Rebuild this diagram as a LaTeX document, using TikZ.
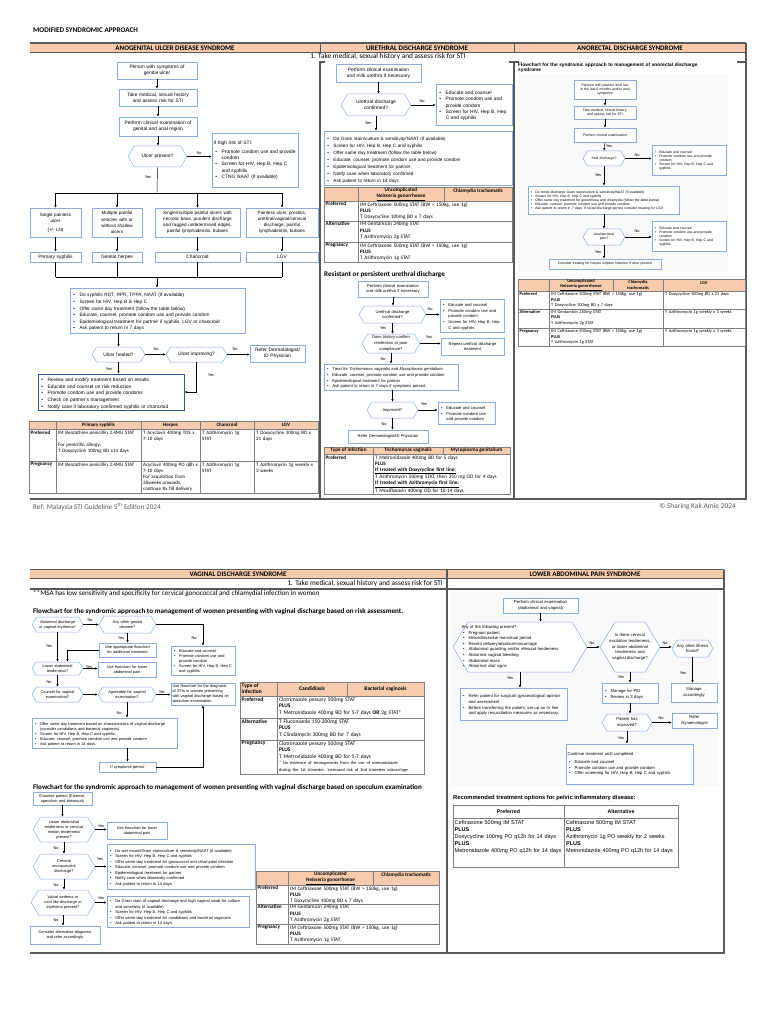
\documentclass[tikz,border=0pt]{standalone}
\usepackage{fontspec}
\setmainfont{Liberation Sans}
\newfontfamily\calib{Carlito}
\usetikzlibrary{arrows.meta}
\definecolor{hdr}{HTML}{F8CBAD}
\definecolor{frm}{HTML}{595959}
\definecolor{bbl}{HTML}{8FAADC}
\definecolor{dbl}{HTML}{2F5597}
\definecolor{tbl}{HTML}{808080}
\hyphenpenalty=10000
\exhyphenpenalty=10000
\newcommand\fA{\fontsize{4.85}{6.2}\selectfont}
\newcommand\fB{\fontsize{4.65}{7}\selectfont}
\newcommand\fC{\fontsize{4.1}{5.6}\selectfont}
\newcommand\fD{\fontsize{3.45}{3.9}\selectfont}
\newcommand\fE{\fontsize{3.9}{5}\selectfont}
\newcommand\fF{\fontsize{4.2}{5.6}\selectfont}
\newcommand\fG{\fontsize{4}{5.5}\selectfont}
\newcommand\tA{\calib\fontsize{5}{6.2}\selectfont}
\newcommand\tB{\calib\fontsize{5.2}{6.3}\selectfont}
\newcommand\tC{\calib\fontsize{5.2}{6}\selectfont}
\newcommand\tD{\calib\fontsize{4.4}{5.4}\selectfont}
\newcommand\tE{\calib\fontsize{5.5}{6.8}\selectfont}
\newcommand\itm{\par\noindent\hangindent=1.7em\hangafter=1\makebox[1.7em][l]{\hspace{0.4em}\textbullet}\ignorespaces}
\newcommand\bx[7][]{%
 \pgfmathsetmacro\mybw{#5-#3}\pgfmathsetmacro\mybh{#6-#4}\pgfmathsetmacro\mytw{#5-#3-3}%
 \node[box,#1,minimum width=\mybw pt,minimum height=\mybh pt,text width=\mytw pt] (#2) at ({(#3+#5)/2},{(#4+#6)/2}) {#7\par};}
\newcommand\hx[7][]{%
 \pgfmathsetmacro\myhd{(#6-#4)*0.3}%
 \pgfmathsetmacro\mybw{#5-#3}\pgfmathsetmacro\mybh{#6-#4}\pgfmathsetmacro\mytw{#5-#3-\myhd-2}\pgfmathsetmacro\myix{\myhd/2+1}%
 \draw[hexline] (#3,{(#4+#6)/2}) -- ({#3+\myhd},#4) -- ({#5-\myhd},#4) -- (#5,{(#4+#6)/2}) -- ({#5-\myhd},#6) -- ({#3+\myhd},#6) -- cycle;
 \node[hexin,#1,minimum width=\mybw pt,minimum height=\mybh pt,text width=\mytw pt,inner xsep=\myix pt] (#2) at ({(#3+#5)/2},{(#4+#6)/2}) {#7\par};}
\tikzset{
 box/.style={draw=bbl,line width=0.5pt,fill=white,inner xsep=1.5pt,inner ysep=0.5pt,align=center},
 hexin/.style={inner ysep=0.5pt,align=center},
 hexline/.style={draw=bbl,line width=0.5pt,fill=white},
 arr/.style={-{Latex[length=2.6pt,width=2.2pt]},line width=0.45pt,black},
 ln/.style={line width=0.45pt,black},
 lbl/.style={font=\fontsize{3.9}{4}\selectfont,inner sep=0.5pt},
 grid/.style={draw=tbl,line width=0.35pt},
 cellt/.style={inner sep=0pt,align=left,anchor=north west},
 hd/.style={font=\calib\bfseries\fontsize{7}{8}\selectfont,inner sep=0pt},
 sub/.style={font=\calib\fontsize{7.3}{8}\selectfont,inner sep=0pt},
 bold/.style={font=\calib\bfseries\fontsize{7.1}{8}\selectfont,inner sep=0pt,anchor=west},
}
\begin{document}
\begin{tikzpicture}[x=1pt,y=-1pt]
\useasboundingbox (0,0) rectangle (768,1024);
\fill[white] (0,0) rectangle (768,1024);
\node[anchor=west,font=\calib\bfseries\fontsize{7.2}{8}\selectfont,inner sep=0pt] (title) at (33,30) {MODIFIED SYNDROMIC APPROACH};
% ===== top frame
\fill[hdr] (30,43.5) rectangle (746,52.5);
\draw[frm,line width=1.4pt] (30,43) -- (746,43);
\draw[frm,line width=0.8pt] (30,52.8) -- (746,52.8);
\draw[frm,line width=0.8pt] (320,43) -- (320,52.8) (514,43) -- (514,52.8);
\draw[frm,line width=1.4pt] (746,43) -- (746,499) -- (30,499);
\draw[frm,line width=1.1pt] (325,62) -- (320,62) -- (320,499) (509,62) -- (514,62) -- (514,499) -- (514,62) -- (519,62) (737,62) -- (746,62);
\node[hd] (h1) at (175,48) {ANOGENITAL ULCER DISEASE SYNDROME};
\node[hd] (h2) at (417,48) {URETHRAL DISCHARGE SYNDROME};
\node[hd] (h3) at (630,48) {ANORECTAL DISCHARGE SYNDROME};
\node[sub] (s1) at (388,57) {1. Take medical, sexual history and assess risk for STI};
% ===== left flowchart
\bx[font=\fA]{a1}{117}{62}{197}{79}{Person with symptoms of\\genital ulcer}
\bx[font=\fA]{a2}{119}{89}{197}{106}{Take medical, sexual history\\and assess risk for STI}
\bx[font=\fA]{a3}{119}{117}{197}{136}{Perform clinical examination of\\genital and anal region}
\hx[font=\fA]{a4}{128}{146}{187}{167}{Ulcer present?}
\bx[font=\fA,align=left]{a5}{212}{133}{298}{187}{If high risk of STI:\par\vspace{3pt}\itm Promote condom use and provide condom\itm Screen for HIV, Hep B, Hep C and syphilis\itm CTNG NAAT (if available)}
\draw[arr] (a1.south) -- (a1.south |- a2.north);
\draw[arr] (a2.south) -- (a2.south |- a3.north);
\draw[arr] (a3.south) -- (a3.south |- a4.north);
\draw[arr] (a4.east) -- (a4.east -| a5.west);
\node[lbl] (la1) at (199,153) {No};
\node[lbl] (la2) at (148,177) {Yes};
\bx[font=\fontsize{4.6}{6.1}\selectfont]{b1}{30}{208}{81}{237}{Single painless\\ulcer\\[3pt](+/- LN)}
\bx[font=\fontsize{4.6}{6.1}\selectfont]{b2}{92}{208}{142}{237}{Multiple painful\\vesicles with or\\without shallow\\ulcers}
\bx[font=\fontsize{4.6}{6.1}\selectfont]{b3}{155}{208}{240}{237}{Single/multiple painful ulcers with\\necrotic base, purulent discharge\\and ragged undetermined edges,\\painful lymphadenitis, buboes}
\bx[font=\fontsize{4.6}{6.1}\selectfont]{b4}{246}{208}{318}{237}{Painless ulcer, proctitis,\\urethral/vaginal/cervical\\discharge, painful\\lymphadenitis, buboes}
\coordinate (br) at (157,193);
\draw[ln] (a4.south) -- (br);
\draw[ln] (br -| b1.north) -- (br -| b4.north);
\foreach \n in {b1,b2,b3,b4} \draw[arr] (br -| \n.north) -- (\n.north);
\bx[font=\fA]{c1}{30}{252}{81}{262}{Primary syphilis}
\bx[font=\fA]{c2}{92}{252}{142}{262}{Genital herpes}
\bx[font=\fA]{c3}{155}{252}{240}{262}{Chancroid}
\bx[font=\fA]{c4}{246}{252}{318}{262}{LGV}
\draw[arr] (b1.south) -- (c1.north);
\draw[arr] (b2.south) -- (c2.north);
\draw[arr] (b3.south) -- (c3.north);
\draw[arr] (b4.south) -- (c4.north);
\coordinate (mg) at (157,277);
\foreach \n in {c1,c2,c3,c4} \draw[ln] (\n.south) -- (mg -| \n.south);
\draw[ln] (mg -| c1.south) -- (mg -| c4.south);
\bx[font=\fontsize{4.75}{6.6}\selectfont,align=left]{d1}{70}{288}{245}{333}{\itm Do syphilis RDT, RPR, TPPA, NAAT (if available)\itm Screen for HIV, Hep B \& Hep C\itm Offer same day treatment (follow the table below)\itm Educate, counsel, promote condom use and provide condom\itm Epidemiological treatment for partner if syphilis, LGV or chancroid\itm Ask patient to return in 7 days}
\draw[arr] (mg) -- (mg |- d1.north);
\hx[font=\fA]{e1}{92}{347}{145}{362}{Ulcer healed?}
\hx[font=\fA]{e2}{166}{347}{227}{362}{Ulcer improving?}
\bx[font=\fA]{e3}{250}{345}{305}{362}{Refer Dermatologist/\\ID Physician}
\draw[arr] (d1.south -| e1.south) -- (e1.north);
\draw[arr] (e1.east) -- (e2.west);
\draw[arr] (e2.east) -- (e2.east -| e3.west);
\node[lbl] (le1) at (156,349) {No};
\node[lbl] (le2) at (235,349) {No};
\node[lbl] (le3) at (109,369) {Yes};
\node[lbl] (le4) at (211,375) {Yes};
\bx[font=\fontsize{4.85}{6.7}\selectfont,align=left,draw=dbl,line width=1pt]{f1}{38}{374}{184}{410}{\itm Review and modify treatment based on results\itm Educate and counsel on risk reduction\itm Promote condom use and provide condoms\itm Check on partner's management\itm Notify case if laboratory confirmed syphilis or chancroid}
\draw[arr] (e1.south) -- (e1.south |- f1.north);
\draw[arr] (e2.south) |- (f1.east);
% left table
\fill[hdr] (29,421) rectangle (318,429);
\draw[grid] (29,421) rectangle (318,493);
\draw[grid] (29,429) -- (318,429) (29,461) -- (318,461) (56,421) -- (56,493) (141,421) -- (141,493) (200,421) -- (200,493) (254,421) -- (254,493);
\node[font=\tA\bfseries,inner sep=0pt] (lt1) at (98.5,425) {Primary syphilis};
\node[font=\tA\bfseries,inner sep=0pt] (lt2) at (170.5,425) {Herpes};
\node[font=\tA\bfseries,inner sep=0pt] (lt3) at (227,425) {Chancroid};
\node[font=\tA\bfseries,inner sep=0pt] (lt4) at (286,425) {LGV};
\node[cellt,font=\tA\bfseries] (lt5) at (30.5,430.5) {Preferred};
\node[cellt,font=\tA\bfseries] (lt6) at (30.5,462.5) {Pregnancy};
\node[cellt,font=\tA,text width=82pt] (lt7) at (58,430.5) {IM Benzathine penicillin 2.4MU STAT\\\mbox{}\\For penicillin allergy:\\T Doxycycline 100mg BD x14 days};
\node[cellt,font=\tA,text width=55pt] (lt8) at (143,430.5) {T Acyclovir 400mg TDS x 7-10 days};
\node[cellt,font=\tA,text width=46pt] (lt9) at (202,430.5) {T Azithromycin 1g STAT};
\node[cellt,font=\tA,text width=60pt] (lt10) at (256,430.5) {T Doxycycline 100mg BD x 21 days};
\node[cellt,font=\tA,text width=82pt] (lt11) at (58,462.5) {IM Benzathine penicillin 2.4MU STAT};
\node[cellt,font=\tA,text width=55pt] (lt12) at (143,462.5) {Acyclovir 400mg PO q8h x 7-10 days\\*For acquisition from 28weeks onwards, continue Rx till delivery};
\node[cellt,font=\tA,text width=46pt] (lt13) at (202,462.5) {T Azithromycin 1g STAT};
\node[cellt,font=\tA,text width=58pt] (lt14) at (256,462.5) {T Azithromycin 1g weekly x 3 weeks};
% ===== middle column
\bx[font=\fA]{g1}{336}{64}{421}{82}{Perform clinical examination\\and milk urethra if necessary}
\hx[font=\fA]{g2}{341}{94}{411}{116}{Urethral discharge\\confirmed?}
\bx[font=\fA,align=left]{g3}{436}{84}{512}{125}{\itm Educate and counsel\itm Promote condom use and provide condom\itm Screen for HIV, Hep B, Hep C and syphilis}
\bx[font=\fB,align=left]{g4}{324}{131}{512}{185}{\itm Do Gram stain/culture \& sensitivity/NAAT (if available)\itm Screen for HIV, Hep B, Hep C and syphilis\itm Offer same day treatment (follow the table below)\itm Educate, counsel, promote condom use and provide condom\itm Epidemiological treatment for partner\itm Notify case when laboratory confirmed\itm Ask patient to return in 14 days}
\draw[arr] (g1.south) -- (g1.south |- g2.north);
\draw[arr] (g2.east) -- (g3.west |- g2.east);
\draw[arr] (g2.south) -- (g2.south |- g4.north);
\node[lbl] (lg1) at (422,101) {No};
\node[lbl] (lg2) at (368,123) {Yes};
% urethral table
\fill[hdr] (324,187) rectangle (512,201);
\draw[grid] (324,187) rectangle (512,262);
\draw[grid] (324,201) -- (512,201) (324,221) -- (512,221) (324,242) -- (512,242) (358,187) -- (358,262) (444,187) -- (444,201);
\node[font=\tB\bfseries,align=center,inner sep=0pt] (ut1) at (401,194) {Uncomplicated\\\underline{Neisseria gonorrhoeae}};
\node[font=\tB\bfseries,inner sep=0pt] (ut2) at (478,191) {Chlamydia trachomatis};
\node[cellt,font=\tB\bfseries] (ut3) at (325.5,202) {Preferred};
\node[cellt,font=\tB\bfseries] (ut4) at (325.5,222) {Alternative};
\node[cellt,font=\tB\bfseries] (ut5) at (325.5,243) {Pregnancy};
\node[cellt,font=\tB,text width=150pt] (ut6) at (360,202) {IM Ceftriaxone 500mg STAT (BW > 150kg, use 1g)\\\textbf{PLUS}\\T Doxycycline 100mg BD x 7 days};
\node[cellt,font=\tB,text width=150pt] (ut7) at (360,222) {IM Gentamicin 240mg STAT\\\textbf{PLUS}\\T Azithromycin 2g STAT};
\node[cellt,font=\tB,text width=150pt] (ut8) at (360,243) {IM Ceftriaxone 500mg STAT (BW > 150kg, use 1g)\\\textbf{PLUS}\\T Azithromycin 1g STAT};
\node[bold] (rp) at (324,275) {Resistant or persistent urethral discharge};
% resistant flow
\bx[font=\fC]{h1}{358}{281}{428}{297}{Perform clinical examination\\and milk urethra if necessary}
\hx[font=\fC]{h2}{359}{306}{426}{323}{Urethral discharge\\confirmed?}
\bx[font=\fC,align=left]{h3}{440}{299}{504}{332}{\itm Educate and counsel\itm Promote condom use and provide condom\itm Screen for HIV, Hep B, Hep C and syphilis}
\hx[font=\fC]{h4}{362}{334}{420}{353}{Does history confirm\\reinfection or poor\\compliance?}
\bx[font=\fC]{h5}{441}{338}{504}{355}{Repeat urethral discharge\\treatment}
\bx[font=\fC,align=left]{h6}{324}{364}{458}{390}{\itm Treat for \textit{Trichomonas vaginalis} and \textit{Mycoplasma genitalium}\itm Educate, counsel, promote condom use and provide condom\itm Epidemiological treatment for partner\itm Ask patient to return in 7 days if symptoms persist.}
\hx[font=\fC]{h7}{367}{402}{418}{418}{Improved?}
\bx[font=\fC,align=left]{h8}{438}{402}{495}{424}{\itm Educate and counsel\itm Promote condom use and provide condom}
\bx[font=\fC]{h9}{348}{430}{428}{443}{Refer Dermatologist/ID Physician}
\draw[arr] (h1.south) -- (h1.south |- h2.north);
\draw[arr] (h2.east) -- (h3.west |- h2.east);
\draw[arr] (h2.south) -- (h2.south |- h4.north);
\draw[arr] (h4.east) -- (h5.west |- h4.east);
\draw[arr] (h4.south) -- (h4.south |- h6.north);
\draw[arr] (h6.south -| h7.north) -- (h7.north);
\draw[arr] (h7.east) -- (h8.west |- h7.east);
\draw[arr] (h7.south) -- (h7.south |- h9.north);
\node[lbl] (lh1) at (430,309) {No};
\node[lbl] (lh2) at (383,328) {Yes};
\node[lbl] (lh3) at (429,337) {Yes};
\node[lbl] (lh4) at (383,359) {No};
\node[lbl] (lh5) at (424,404) {Yes};
\node[lbl] (lh6) at (384,424) {No};
% trich table
\fill[hdr] (324,447) rectangle (510,454);
\draw[grid] (324,447) rectangle (510,494);
\draw[grid] (324,454) -- (510,454) (373,447) -- (373,494) (443,447) -- (443,454);
\node[font=\tC\bfseries,inner sep=0pt] (tt1) at (348.5,450.5) {Type of infection};
\node[font=\tC\bfseries,inner sep=0pt] (tt2) at (408,450.5) {Trichomonas vaginalis};
\node[font=\tC\bfseries,inner sep=0pt] (tt3) at (476.5,450.5) {Mycoplasma genitalium};
\node[cellt,font=\tC\bfseries] (tt4) at (325.5,455.5) {Preferred};
\node[cellt,font=\tC,text width=135pt] (tt5) at (375,455.5) {T Metronidazole 400mg BD for 5 days\\\textbf{PLUS}\\\textbf{\underline{If treated with Doxycycline first line:}}\\T Azithromycin 500mg STAT, then 250 mg OD for 4 days\\\textbf{\underline{If treated with Azithromycin first line:}}\\T Moxifloxacin 400mg OD for 10-14 days};
% ===== right column
\fill[gray!5] (519,74) rectangle (728,272);
\node[cellt,font=\bfseries\fontsize{4.8}{5.2}\selectfont,text width=225pt] (at0) at (518,63) {Flowchart for the syndromic approach to management of anorectal discharge\\syndrome};
\bx[font=\fD]{k1}{574}{80}{636}{99}{Persons with passive anal sex\\in the last 6 months and/or anal\\symptoms}
\bx[font=\fD]{k2}{574}{106}{636}{119}{Take medical, sexual history,\\and assess risk for STI}
\bx[font=\fD]{k3}{574}{128}{636}{142}{Perform clinical examination}
\hx[font=\fD]{k4}{583}{151}{625}{166}{Anal discharge?}
\bx[font=\fD,align=left]{k5}{652}{145}{726}{175}{\itm Educate and counsel\itm Promote condom use and provide condom\itm Screen for HIV, Hep B, Hep C and syphilis}
\bx[font=\fD,align=left]{k6}{528}{186}{679}{214}{\itm Do rectal discharge Gram stain/culture \& sensitivity/NAAT (if available)\itm Screen for HIV, Hep B, Hep C and syphilis\itm Offer same day treatment for gonorrhoea and chlamydia (follow the table below)\itm Educate, counsel, promote condom use and provide condom\itm Ask patient to return in 7 days, if rectal discharge persist consider treating for LGV}
\hx[font=\fD]{k7}{583}{229}{625}{245}{Anal/perianal\\pain?}
\bx[font=\fD,align=left]{k8}{652}{221}{726}{251}{\itm Educate and counsel\itm Promote condom use and provide condom\itm Screen for HIV, Hep B, Hep C and syphilis}
\bx[font=\fD]{k9}{549}{259}{661}{269}{Consider treating for herpes simplex infection if ulcer present}
\draw[arr] (k1.south) -- (k2.north);
\draw[arr] (k2.south) -- (k3.north);
\draw[arr] (k3.south) -- (k4.north);
\draw[arr] (k4.east) -- (k5.west |- k4.east);
\draw[arr] (k4.south) -- (k4.south |- k6.north);
\draw[arr] (k6.south -| k7.north) -- (k7.north);
\draw[arr] (k7.east) -- (k8.west |- k7.east);
\draw[arr] (k7.south) -- (k7.south |- k9.north);
\node[lbl] (lk1) at (609,146) {Yes};
\node[lbl] (lk2) at (637,155) {No};
\node[lbl] (lk3) at (598,175) {Yes};
\node[lbl] (lk4) at (637,231) {No};
\node[lbl] (lk5) at (598,252) {Yes};
% anorectal table
\fill[hdr] (518,279) rectangle (745,291);
\draw[grid] (518,279) rectangle (745,346);
\draw[grid] (518,291) -- (745,291) (518,309) -- (745,309) (518,328) -- (745,328) (549,279) -- (549,346) (613,279) -- (613,291) (663,279) -- (663,346);
\node[font=\tD\bfseries,align=center,inner sep=0pt] (rt1) at (581,285) {Uncomplicated\\\underline{Neisseria gonorrhoeae}};
\node[font=\tD\bfseries,align=center,inner sep=0pt] (rt2) at (638,285) {Chlamydia\\trachomatis};
\node[font=\tD\bfseries,inner sep=0pt] (rt3) at (704,283) {LGV};
\node[cellt,font=\tD\bfseries] (rt4) at (519.5,292.3) {Preferred};
\node[cellt,font=\tD\bfseries] (rt5) at (519.5,310.3) {Alternative};
\node[cellt,font=\tD\bfseries] (rt6) at (519.5,329.3) {Pregnancy};
\node[cellt,font=\tD,text width=110pt] (rt7) at (551,292.3) {IM Ceftriaxone 500mg STAT (BW > 150kg, use 1g)\\\textbf{PLUS}\\T Doxycycline 100mg BD x 7 days};
\node[cellt,font=\tD,text width=110pt] (rt8) at (551,310.3) {IM Gentamicin 240mg STAT\\\textbf{PLUS}\\T Azithromycin 2g STAT};
\node[cellt,font=\tD,text width=110pt] (rt9) at (551,329.3) {IM Ceftriaxone 500mg STAT (BW > 150kg, use 1g)\\\textbf{PLUS}\\T Azithromycin 1g STAT};
\node[cellt,font=\tD,text width=80pt] (rt10) at (665,292.3) {T Doxycycline 100mg BD x 21 days};
\node[cellt,font=\tD,text width=80pt] (rt11) at (665,310.3) {T Azithromycin 1g weekly x 3 weeks};
\node[cellt,font=\tD,text width=80pt] (rt12) at (665,329.3) {T Azithromycin 1g weekly x 3 weeks};
% footers
\node[anchor=west,font=\calib\fontsize{7.2}{8}\selectfont,text=frm,inner sep=0pt] (ref) at (33,507) {Ref: Malaysia STI Guideline 5\textsuperscript{th} Edition 2024};
\node[anchor=east,font=\calib\fontsize{7.4}{8}\selectfont,text=frm,inner sep=0pt] (cpy) at (736,507) {© Sharing Kak Amie 2024};
% ===== bottom frame
\fill[hdr] (30,570) rectangle (724,578.5);
\draw[frm,line width=1.4pt] (30,569.5) -- (724,569.5);
\draw[frm,line width=0.8pt] (30,578.8) -- (724,578.8);
\draw[frm,line width=1.4pt] (30,589) -- (724,589);
\draw[frm,line width=1.4pt] (724,569.5) -- (724,953) -- (30,953);
\draw[frm,line width=1.1pt] (447,569.5) -- (447,953);
\node[hd] (h4) at (238,574) {VAGINAL DISCHARGE SYNDROME};
\node[hd] (h5) at (585,574) {LOWER ABDOMINAL PAIN SYNDROME};
\node[sub,anchor=east] (s2) at (443,584) {1. Take medical, sexual history and assess risk for STI};
\node[sub,anchor=west,font=\calib\fontsize{7.1}{8}\selectfont] (msa) at (33,594) {**MSA has low sensitivity and specificity for cervical gonococcal and chlamydial infection in women};
\node[bold] (fl1) at (33,612) {Flowchart for the syndromic approach to management of women presenting with vaginal discharge based on risk assessment.};
% vaginal flow 1
\hx[font=\fE]{v1}{32}{617}{83}{632}{Abnormal discharge\\or vaginal erythema?}
\hx[font=\fE]{v2}{99}{616}{156}{633}{Any other genital\\disease?}
\bx[font=\fE,align=left]{v3}{171}{646}{235}{675}{\itm Educate and counsel\itm Promote condom use and provide condom\itm Screen for HIV, Hep B, Hep C and syphilis}
\bx[font=\fE]{v4}{99}{643}{156}{657}{Use appropriate flowchart\\for additional treatment}
\hx[font=\fE]{v5}{32}{662}{83}{675}{Lower abdominal\\tenderness?}
\bx[font=\fE]{v6}{98}{662}{156}{677}{Use flowchart for lower\\abdominal pain}
\hx[font=\fE]{v7}{32}{687}{83}{702}{Counsel for vaginal\\examination?}
\hx[font=\fE]{v8}{98}{687}{156}{702}{Agreeable for vaginal\\examination?}
\bx[font=\fE,align=left]{v9}{171}{683}{235}{705}{Use flowchart for the diagnosis of STIs in women presenting with vaginal discharge based on speculum examination}
\bx[font=\fE,align=left]{v10}{32}{718}{177}{748}{\itm Offer same day treatment based on characteristics of vaginal discharge (consider candidiasis and bacterial vaginosis)\itm Screen for HIV, Hep B, Hep C and syphilis.\itm Educate, counsel, promote condom use and provide condom\itm Ask patient to return in 14 days.}
\bx[font=\fE]{v11}{99}{762}{156}{772}{If symptoms persist}
\draw[arr] (v1.east) -- (v2.west);
\draw[arr] (v2.east) -| (v3.north);
\draw[arr] (v2.south) -- (v2.south |- v4.north);
\draw[arr] (v4.west) -| ([xshift=10pt]v5.north);
\draw[arr] (v1.south) -- (v5.north);
\draw[arr] (v5.east) -- (v6.west |- v5.east);
\draw[arr] (v5.south) -- (v7.north);
\draw[arr] (v7.east) -- (v8.west);
\draw[arr] (v8.east) -- (v9.west |- v8.east);
\draw[arr] (v8.south) -- (v8.south |- v10.north);
\draw[arr] (v10.south -| v11.north) -- (v11.north);
\draw[arr] (v11.east) -| (v9.south);
\node[lbl] (lv1) at (90,620) {No};
\node[lbl] (lv2) at (194,638) {No};
\node[lbl] (lv3) at (121,638) {Yes};
\node[lbl] (lv4) at (49,646) {Yes};
\node[lbl] (lv5) at (89,667) {Yes};
\node[lbl] (lv6) at (49,682) {No};
\node[lbl] (lv7) at (162,692) {Yes};
\node[lbl] (lv8) at (119,713) {No};
% vaginal table
\fill[hdr] (240,682) rectangle (424,696);
\draw[grid] (240,682) rectangle (424,774);
\draw[grid] (240,696) -- (424,696) (240,718) -- (424,718) (240,740) -- (424,740) (277,682) -- (277,774) (347,682) -- (347,696);
\node[cellt,font=\tE\bfseries] (vt1) at (241.5,683) {Type of\\infection};
\node[font=\tE\bfseries,inner sep=0pt] (vt2) at (312,689) {Candidiasis};
\node[font=\tE\bfseries,inner sep=0pt] (vt3) at (385.5,689) {Bacterial vaginosis};
\node[cellt,font=\tE\bfseries] (vt4) at (241.5,697) {Preferred};
\node[cellt,font=\tE\bfseries] (vt5) at (241.5,719) {Alternative};
\node[cellt,font=\tE\bfseries] (vt6) at (241.5,741) {Pregnancy};
\node[cellt,font=\tE,text width=145pt] (vt7) at (279,697) {Clotrimazole pessary 500mg STAT\\\textbf{PLUS}\\T Metronidazole 400mg BD for 5-7 days \textbf{OR} 2g STAT*};
\node[cellt,font=\tE,text width=145pt] (vt8) at (279,719) {T Fluconazole 150-200mg STAT\\\textbf{PLUS}\\T Clindamycin 300mg BD for 7 days};
\node[cellt,font=\tE,text width=145pt] (vt9) at (279,741) {Clotrimazole pessary 500mg STAT\\\textbf{PLUS}\\T Metronidazole 400mg BD for 5-7 days\\{\fontsize{4.4}{5.6}\selectfont * No evidence of teratogenicity from the use of metronidazole\\during the 1st trimester. Increased risk of 2nd trimester miscarriage}};
\node[bold] (fl2) at (33,788) {Flowchart for the syndromic approach to management of women presenting with vaginal discharge based on speculum examination};
% vaginal flow 2
\bx[font=\fE]{w1}{33}{792}{92}{805}{Examine patient (External,\\speculum and bimanual)}
\hx[font=\fE]{w2}{33}{817}{95}{842}{Lower abdominal\\tenderness or cervical\\motion tenderness\\present?}
\bx[font=\fE]{w3}{107}{822}{167}{839}{Use flowchart for lower\\abdominal pain}
\hx[font=\fE]{w4}{33}{854}{95}{879}{Cervical\\mucopurulent\\discharge?}
\bx[font=\fG,align=left]{w5}{107}{844}{255}{889}{\itm Do wet mount/Gram stain/culture \& sensitivity/NAAT (if available)\itm Screen for HIV, Hep B, Hep C and syphilis\itm Offer same day treatment for gonococcal and chlamydial infection\itm Educate, counsel, promote condom use and provide condom\itm Epidemiological treatment for partner\itm Notify case when laboratory confirmed\itm Ask patient to return in 14 days.}
\hx[font=\fE]{w6}{31}{890}{95}{915}{Vulval oedema or\\curd like discharge or\\erythema present?}
\bx[font=\fG,align=left]{w7}{107}{896}{249}{927}{\itm Do Gram stain of vaginal discharge and high vaginal swab for culture and sensitivity (if available)\itm Screen for HIV, Hep B, Hep C and syphilis\itm Offer same day treatment for candidiasis and bacterial vaginosis\itm Ask patient to return in 14 days.}
\bx[font=\fE]{w8}{30}{926}{100}{944}{Consider alternative diagnosis\\and refer accordingly}
\draw[arr] (w1.south) -- (w1.south |- w2.north);
\draw[arr] (w2.east) -- (w3.west |- w2.east);
\draw[arr] (w2.south) -- (w4.north);
\draw[arr] (w4.east) -- (w5.west |- w4.east);
\draw[arr] (w4.south) -- (w4.south |- w6.north);
\draw[arr] (w6.east) -- (w7.west |- w6.east);
\draw[arr] (w6.south) -- (w6.south |- w8.north);
\node[lbl] (lw1) at (101,826) {Yes};
\node[lbl] (lw2) at (56,848) {No};
\node[lbl] (lw3) at (100,859) {Yes};
\node[lbl] (lw4) at (56,885) {No};
\node[lbl] (lw5) at (101,898) {Yes};
\node[lbl] (lw6) at (56,920.5) {No};
% table 2
\fill[hdr] (256,871) rectangle (439,885);
\draw[grid] (256,871) rectangle (439,944);
\draw[grid] (256,885) -- (439,885) (256,904) -- (439,904) (256,924) -- (439,924) (288,871) -- (288,944) (373,871) -- (373,885);
\node[font=\tB\bfseries,align=center,inner sep=0pt] (wt1) at (330.5,878) {Uncomplicated\\\underline{Neisseria gonorrhoeae}};
\node[font=\tB\bfseries,inner sep=0pt] (wt2) at (406,875) {Chlamydia trachomatis};
\node[cellt,font=\tB\bfseries] (wt3) at (257.5,886) {Preferred};
\node[cellt,font=\tB\bfseries] (wt4) at (257.5,905) {Alternative};
\node[cellt,font=\tB\bfseries] (wt5) at (257.5,925) {Pregnancy};
\node[cellt,font=\tB,text width=148pt] (wt6) at (290,886) {IM Ceftriaxone 500mg STAT (BW > 150kg, use 1g)\\\textbf{PLUS}\\T Doxycycline 100mg BD x 7 days};
\node[cellt,font=\tB,text width=148pt] (wt7) at (290,905) {IM Gentamicin 240mg STAT\\\textbf{PLUS}\\T Azithromycin 2g STAT};
\node[cellt,font=\tB,text width=148pt] (wt8) at (290,925) {IM Ceftriaxone 500mg STAT (BW > 150kg, use 1g)\\\textbf{PLUS}\\T Azithromycin 1g STAT};
% ===== LAP
\fill[gray!5] (451,591) rectangle (718,786);
\bx[font=\fF]{p1}{503}{598}{578}{613}{Perform clinical examination\\(abdominal and vaginal)}
\hx[font=\fF,align=left]{p2}{453}{622}{587}{672}{Any of the following present?\itm Pregnant patient\itm Missed/overdue menstrual period\itm Recent delivery/abortion/miscarriage\itm Abdominal guarding and/or rebound tenderness\itm Abnormal vaginal bleeding\itm Abdominal mass\itm Abnormal vital signs}
\hx[font=\fF]{p3}{600}{622}{660}{672}{Is there cervical\\excitation tenderness,\\or lower abdominal\\tenderness and\\vaginal discharge?}
\hx[font=\fF]{p4}{672}{640}{713}{657}{Any other illness\\found?}
\bx[font=\fF]{p5}{671}{683}{717}{702}{Manage\\accordingly}
\bx[font=\fF,align=left]{p6}{602}{683}{658}{703}{\itm Manage for PID\itm Review in 3 days}
\hx[font=\fF]{p7}{602}{714}{652}{731}{Patient has\\improved?}
\bx[font=\fF]{p8}{672}{713}{717}{728}{Refer\\Gynaecologist}
\bx[font=\fF,align=left]{p9}{566}{744}{693}{784}{Continue treatment until completed\par\vspace{3pt}\itm Educate and counsel\itm Promote condom use and provide condom\itm Offer screening for HIV, Hep B, Hep C and syphilis}
\bx[font=\fF,align=left]{p10}{460}{688}{567}{720}{\itm Refer patient for surgical/ gynaecological opinion and assessment\itm Before transferring the patient, set up an IV line and apply resuscitation measures as necessary.}
\draw[arr] (p1.south) -- (p1.south |- p2.north);
\draw[arr] (p2.east) -- (p3.west);
\draw[arr] (p3.east) -- (p3.east -| p4.west);
\draw[arr] (p4.south) -- (p4.south |- p5.north);
\draw[arr] (p3.south) -- (p3.south |- p6.north);
\draw[arr] (p6.south) -- (p6.south |- p7.north);
\draw[arr] (p7.east) -- (p8.west |- p7.east);
\draw[arr] (p7.south) -- (p7.south |- p9.north);
\draw[arr] (p2.south) -- (p2.south |- p10.north);
\node[lbl] (lp1) at (592,643) {No};
\node[lbl] (lp2) at (665,643) {No};
\node[lbl] (lp3) at (683,673) {Yes};
\node[lbl] (lp4) at (621,677) {Yes};
\node[lbl] (lp5) at (661,718) {No};
\node[lbl] (lp6) at (621,738) {Yes};
\node[lbl] (lp7) at (510,678) {Yes};
\node[anchor=west,font=\bfseries\fontsize{5.8}{6}\selectfont,inner sep=0pt] (pid) at (453,798) {Recommended treatment options for pelvic inflammatory disease:};
\draw[grid] (453,805) rectangle (678,867);
\draw[grid] (453,818) -- (678,818) (564,805) -- (564,867);
\node[font=\bfseries\fontsize{5.2}{6}\selectfont,inner sep=0pt] (pt1) at (508.5,811.5) {Preferred};
\node[font=\bfseries\fontsize{5.2}{6}\selectfont,inner sep=0pt] (pt2) at (621,811.5) {Alternative};
\node[cellt,font=\fontsize{5.5}{7.2}\selectfont,text width=110pt] (pt3) at (454.5,820) {Ceftriaxone 500mg IM STAT\\\textbf{PLUS}\\Doxycycline 100mg PO q12h for 14 days\\\textbf{PLUS}\\Metronidazole 400mg PO q12h for 14 days};
\node[cellt,font=\fontsize{5.5}{7.2}\selectfont,text width=112pt] (pt4) at (566,820) {Ceftriaxone 500mg IM STAT\\\textbf{PLUS}\\Azithromycin 1g PO weekly for 2 weeks\\\textbf{PLUS}\\Metronidazole 400mg PO q12h for 14 days};
\end{tikzpicture}
\end{document}
